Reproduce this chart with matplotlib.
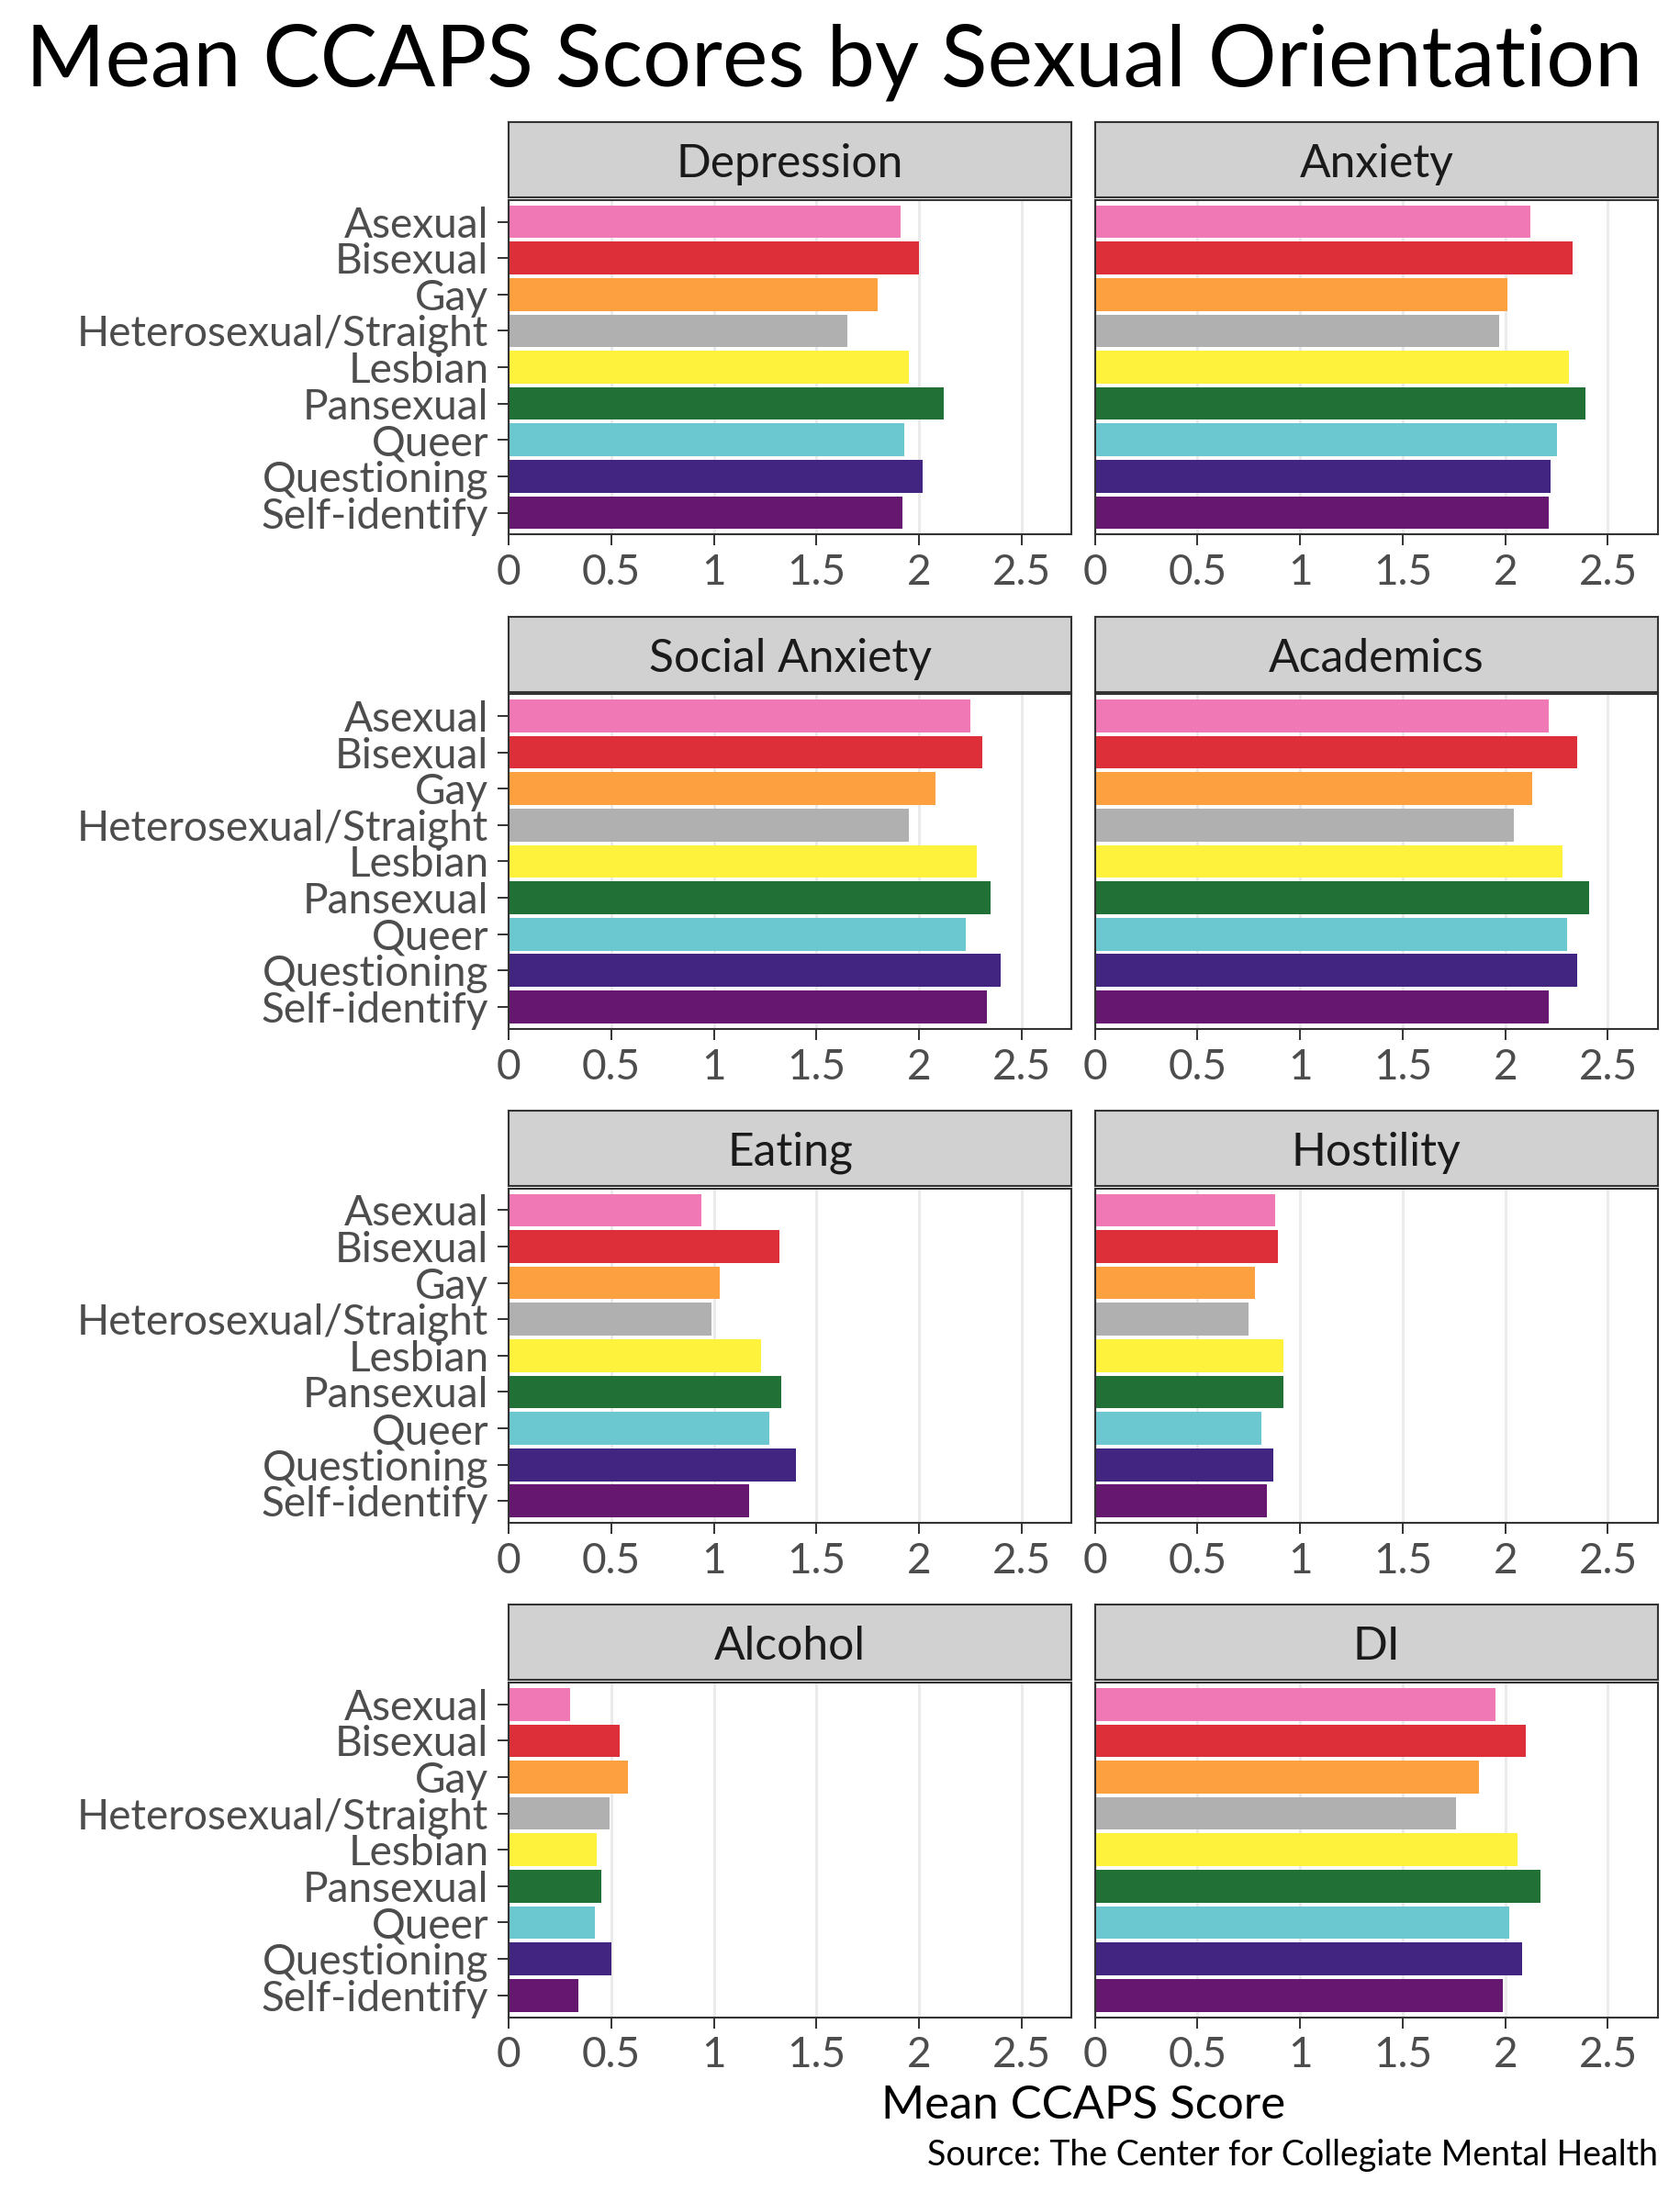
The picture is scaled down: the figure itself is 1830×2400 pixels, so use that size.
import matplotlib
matplotlib.use("Agg")
import matplotlib.pyplot as plt
import numpy as np

plt.rcParams['font.family'] = ['Lato', 'DejaVu Sans']

orientations = ["Asexual", "Bisexual", "Gay", "Heterosexual/Straight", "Lesbian",
                "Pansexual", "Queer", "Questioning", "Self-identify"]
colors = ["#F078B5", "#DD2F39", "#FDA03F", "#B0B0B0", "#FFF23C",
          "#217036", "#6CC8D0", "#412581", "#661870"]

scales = ["Depression", "Anxiety", "Social Anxiety", "Academics",
          "Eating", "Hostility", "Alcohol", "DI"]

depression     = [1.91, 2.00, 1.80, 1.65, 1.95, 2.12, 1.93, 2.02, 1.92]
anxiety        = [2.12, 2.33, 2.01, 1.97, 2.31, 2.39, 2.25, 2.22, 2.21]
social_anxiety = [2.25, 2.31, 2.08, 1.95, 2.28, 2.35, 2.23, 2.40, 2.33]
academics      = [2.21, 2.35, 2.13, 2.04, 2.28, 2.41, 2.30, 2.35, 2.21]
eating         = [0.94, 1.32, 1.03, 0.99, 1.23, 1.33, 1.27, 1.40, 1.17]
hostility      = [0.88, 0.89, 0.78, 0.75, 0.92, 0.92, 0.81, 0.87, 0.84]
alcohol        = [0.30, 0.54, 0.58, 0.49, 0.43, 0.45, 0.42, 0.50, 0.34]
di             = [1.95, 2.10, 1.87, 1.76, 2.06, 2.17, 2.02, 2.08, 1.99]

values = [depression, anxiety, social_anxiety, academics, eating, hostility, alcohol, di]

x_ticks = [0, 0.5, 1, 1.5, 2, 2.5]
x_tick_labels = ["0", "0.5", "1", "1.5", "2", "2.5"]

title = "Mean CCAPS Scores by Sexual Orientation"
x_label = "Mean CCAPS Score"
caption = "Source: The Center for Collegiate Mental Health"

W, H = 1830, 2400
DPI = 100
fig = plt.figure(figsize=(W / DPI, H / DPI), dpi=DPI)
fig.patch.set_facecolor("white")
renderer = fig.canvas.get_renderer()


def fit_size(txt, size, target_px):
    t = fig.text(0, 0, txt, fontsize=size)
    w = t.get_window_extent(renderer=renderer).width
    t.remove()
    return size * target_px / w


tick_fs = fit_size("Heterosexual/Straight", 30, 448)
strip_fs = fit_size("Depression", 34, 248)
title_fs = fit_size(title, 60, 1762)
xlab_fs = fit_size(x_label, 38, 441)
cap_fs = fit_size(caption, 24, 796)

col_x = [554.0, 1192.7]
ax_w = 613.3
strip_h = 82.0
gap = 2.5
panel_h = 364.5
row_pitch = 538.4
first_strip_top = 133.3

dark = "#333333"
for i, (name, vals) in enumerate(zip(scales, values)):
    r, c = divmod(i, 2)
    strip_top = first_strip_top + r * row_pitch
    ax_top = strip_top + strip_h + gap
    x0 = col_x[c]
    # panel
    ax = fig.add_axes([x0 / W, 1 - (ax_top + panel_h) / H, ax_w / W, panel_h / H])
    y = np.arange(len(orientations))
    ax.barh(y, vals, height=0.9, color=colors, edgecolor="none", zorder=2)
    ax.set_ylim(len(orientations) - 1 + 0.6, -0.6)
    ax.set_xlim(0, 2.744)
    ax.set_xticks(x_ticks)
    ax.set_xticklabels(x_tick_labels)
    ax.xaxis.grid(True, color="#EBEBEB", linewidth=2.2, zorder=0)
    ax.set_axisbelow(True)
    for s in ax.spines.values():
        s.set_color(dark)
        s.set_linewidth(1.5)
        s.set_zorder(3)
    ax.tick_params(axis="x", length=8.5, width=1.4, color=dark, labelsize=tick_fs,
                   labelcolor="#4D4D4D", pad=6.5)
    ax.set_yticks(y)
    if c == 0:
        ax.set_yticklabels(orientations)
        ax.tick_params(axis="y", length=8.5, width=1.4, color=dark, labelsize=tick_fs,
                       labelcolor="#4D4D4D", pad=7)
    else:
        ax.set_yticklabels([])
        ax.tick_params(axis="y", length=0)
    # strip
    sax = fig.add_axes([x0 / W, 1 - (strip_top + strip_h) / H, ax_w / W, strip_h / H])
    sax.set_facecolor("#D1D1D1")
    sax.set_xticks([])
    sax.set_yticks([])
    for s in sax.spines.values():
        s.set_color(dark)
        s.set_linewidth(1.5)
    sax.text(0.5, 0.27, name, ha="center", va="baseline", fontsize=strip_fs,
             color="#1A1A1A", transform=sax.transAxes)

fig.text(28 / W, 1 - 93 / H, title, fontsize=title_fs, color="black",
         ha="left", va="baseline")
fig.text((col_x[0] + col_x[1] + ax_w) / 2 / W, 1 - 2308 / H, x_label, fontsize=xlab_fs,
         color="black", ha="center", va="baseline")
fig.text((col_x[1] + ax_w) / W, 1 - 2359 / H, caption, fontsize=cap_fs, color="black",
         ha="right", va="baseline")

fig.savefig("out.png", dpi=DPI, facecolor="white")
